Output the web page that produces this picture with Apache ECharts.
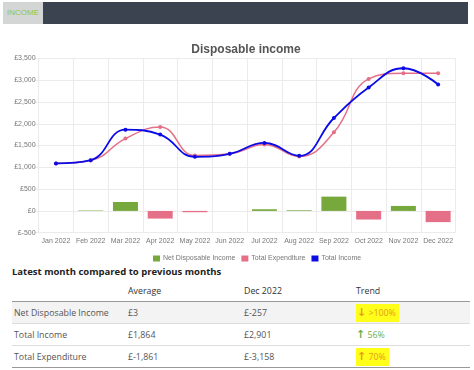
<!DOCTYPE html>
<html>
<head>
<meta charset="utf-8">
<script src="https://cdn.jsdelivr.net/npm/echarts@6/dist/echarts.min.js"></script>
<style>
  html, body { margin:0; padding:0; width:474px; height:370px; background:#fff; overflow:hidden; font-family:"Open Sans", "Liberation Sans", sans-serif; }
  #hdr-tab { position:absolute; left:3px; top:2px; width:40px; height:22px; background:#d4d6d6; color:#8dc63f; font-size:8px; line-height:22px; text-align:center; font-family:"Liberation Sans", sans-serif; }
  #hdr-bar { position:absolute; left:43px; top:2px; width:425px; height:22px; background:#3c4350; }
  #chart { position:absolute; left:0; top:0; width:474px; height:262px; }
  #tbl-title { position:absolute; left:12px; top:265px; font-size:9.5px; font-weight:700; color:#222; }
  table { position:absolute; left:12px; top:281px; width:458px; border-collapse:collapse; font-size:8.8px; color:#555; }
  th { text-align:left; font-weight:400; color:#333; height:20px; padding:0 0 0 2px; border-bottom:1.5px solid #999; }
  td { height:21px; padding:0 0 0 2px; border-bottom:1px solid #ddd; }
  tr.last td { border-bottom:1.5px solid #999; }
  tr.odd td { background:#f3f3f3; }
  .c1 { width:112px; } .c2 { width:114px; } .c3 { width:110px; }
  .hl { background:#ffff1a; padding:3px 3px 3px 1px; }
  .down { color:#e69a1e; } .up-g { color:#6aaf4a; } .up-o { color:#e69a1e; }
  .arr { font-weight:700; font-family:"DejaVu Sans", sans-serif; font-size:11px; line-height:9px; }
</style>
</head>
<body>
<div id="hdr-tab">INCOME</div>
<div id="hdr-bar"></div>
<div id="chart"></div>
<div id="tbl-title">Latest month compared to previous months</div>
<table>
  <tr><th class="c1"></th><th class="c2">Average</th><th class="c3">Dec 2022</th><th>Trend</th></tr>
  <tr class="odd"><td>Net Disposable Income</td><td>£3</td><td>£-257</td><td><span class="hl down"><span class="arr">↓</span> &gt;100%</span></td></tr>
  <tr><td>Total Income</td><td>£1,864</td><td>£2,901</td><td><span class="up-g"><span class="arr">↑</span> 56%</span></td></tr>
  <tr class="last"><td>Total Expenditure</td><td>£-1,861</td><td>£-3,158</td><td><span class="hl up-o"><span class="arr">↑</span> 70%</span></td></tr>
</table>
<script>
const months = ['Jan 2022','Feb 2022','Mar 2022','Apr 2022','May 2022','Jun 2022','Jul 2022','Aug 2022','Sep 2022','Oct 2022','Nov 2022','Dec 2022'];
const totalIncome = [1090, 1165, 1865, 1751, 1242, 1310, 1561, 1265, 2132, 2831, 3274, 2901];
const totalExpenditure = [1090, 1155, 1660, 1927, 1272, 1310, 1523, 1250, 1804, 3029, 3160, 3158];
const netDisposable = [0, 10, 205, -176, -30, 0, 38, 15, 328, -198, 114, -257];
const yMin = -500, yMax = 3500, yStep = 500;

const GREEN = '#76a83c', PINK = '#e56f87', BLUE = '#0b0be6';
const gridColor = '#ebebeb';

function money(v) {
  const s = Math.abs(v).toLocaleString('en-GB');
  return '£' + (v < 0 ? '-' : '') + s;
}

const chart = echarts.init(document.getElementById('chart'), null, {renderer:'canvas'});
chart.setOption({
  animation: false,
  textStyle: { fontFamily: '"Liberation Sans", Arial, sans-serif' },
  title: {
    text: 'Disposable income', left: 241, top: 39, textAlign: 'center',
    textStyle: { fontSize: 12, fontWeight: 'bold', color: '#555' }
  },
  legend: {
    left: 148, top: 250, itemWidth: 7, itemHeight: 6, itemGap: 6,
    icon: 'rect',
    textStyle: { fontSize: 7, color: '#777', padding: [0,0,0,-2] },
    data: [
      { name: 'Net Disposable Income', itemStyle: { color: GREEN } },
      { name: 'Total Expenditure', itemStyle: { color: PINK } },
      { name: 'Total Income', itemStyle: { color: BLUE } }
    ]
  },
  grid: { left: 38.6, right: 18.5, top: 58.4, bottom: 29.3, containLabel: false },
  xAxis: {
    type: 'category', data: months, boundaryGap: true,
    axisLine: { show: true, lineStyle: { color: gridColor } },
    axisTick: { show: true, length: 4, lineStyle: { color: gridColor } },
    splitLine: { show: true, lineStyle: { color: gridColor } },
    axisLabel: { fontSize: 7, color: '#777', margin: 5, interval: 0 }
  },
  yAxis: {
    type: 'value', min: yMin, max: yMax, interval: yStep,
    axisLine: { show: true, lineStyle: { color: gridColor } },
    axisTick: { show: true, length: 4, lineStyle: { color: gridColor } },
    splitLine: { show: true, lineStyle: { color: gridColor } },
    axisLabel: { fontSize: 7, color: '#777', margin: 3, formatter: money }
  },
  series: [
    {
      name: 'Net Disposable Income', type: 'bar', barWidth: 25, z: 1,
      data: netDisposable.map(v => ({ value: v, itemStyle: { color: v < 0 ? PINK : GREEN } }))
    },
    {
      name: 'Total Expenditure', type: 'line', data: totalExpenditure, smooth: 0.45, z: 2,
      symbol: 'circle', symbolSize: 4, showSymbol: true,
      lineStyle: { color: PINK, width: 1.5 }, itemStyle: { color: PINK }
    },
    {
      name: 'Total Income', type: 'line', data: totalIncome, smooth: 0.45, z: 3,
      symbol: 'circle', symbolSize: 4, showSymbol: true,
      lineStyle: { color: BLUE, width: 1.8 }, itemStyle: { color: BLUE }
    }
  ]
});
</script>
</body>
</html>
